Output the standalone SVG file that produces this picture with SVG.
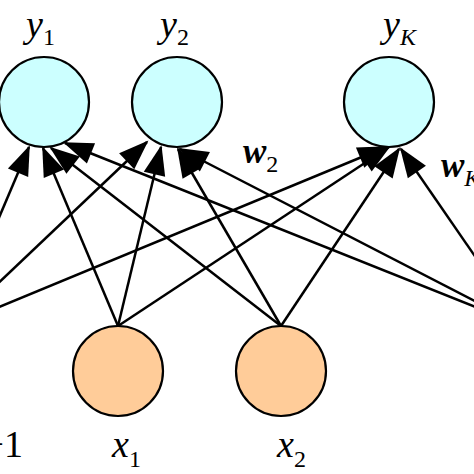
<svg xmlns="http://www.w3.org/2000/svg" width="474" height="474" viewBox="0 0 474 474">
<style>
.out{fill:#ccffff;stroke:#000;stroke-width:2.2}
.inp{fill:#ffcc99;stroke:#000;stroke-width:2.2}
.c{stroke:#000;stroke-width:2.5;fill:none;marker-end:url(#ah)}
.t{font-family:"Liberation Serif","Times New Roman",serif;font-style:italic;font-size:38px;fill:#000}
.w{font-family:"Liberation Serif","Times New Roman",serif;font-style:italic;font-weight:bold;font-size:35px;fill:#000}
.s{font-family:"Liberation Serif","Times New Roman",serif;font-style:normal;font-weight:normal;font-size:24px}
.si{font-family:"Liberation Serif","Times New Roman",serif;font-style:italic;font-weight:normal;font-size:24px}
</style>
<defs>
<marker id="ah" markerUnits="userSpaceOnUse" markerWidth="30" markerHeight="22" refX="28" refY="11" orient="auto" overflow="visible">
<path d="M0,0 L30,11 L0,22 Z" fill="#000"/>
</marker>
</defs>
<rect width="474" height="474" fill="#fff"/>
<g id="connectors">
<line class="c" x1="-47" y1="326" x2="29" y2="147"/>
<line class="c" x1="118" y1="326" x2="43" y2="148"/>
<line class="c" x1="281" y1="326" x2="51" y2="148"/>
<line class="c" x1="523" y1="326" x2="65" y2="143"/>
<line class="c" x1="-47" y1="326" x2="147" y2="142"/>
<line class="c" x1="118" y1="326" x2="161" y2="147"/>
<line class="c" x1="281" y1="326" x2="178" y2="149"/>
<line class="c" x1="523" y1="326" x2="180" y2="149"/>
<line class="c" x1="-47" y1="326" x2="386" y2="147"/>
<line class="c" x1="118" y1="326" x2="389" y2="147"/>
<line class="c" x1="281" y1="326" x2="399" y2="149"/>
<line class="c" x1="523" y1="326" x2="401" y2="149"/>
</g>
<g id="y1"><circle class="out" cx="44" cy="102" r="45"/><text class="t" x="26" y="37">y<tspan class="s" dy="8">1</tspan></text></g>
<g id="y2"><circle class="out" cx="177" cy="102" r="45"/><text class="t" x="160" y="37">y<tspan class="s" dy="8">2</tspan></text></g>
<g id="yK"><circle class="out" cx="389" cy="102" r="45"/><text class="t" x="383" y="37">y<tspan class="si" dy="8">K</tspan></text></g>
<g id="x1"><circle class="inp" cx="118" cy="371" r="45"/><text class="t" x="112" y="457">x<tspan class="s" dy="10">1</tspan></text></g>
<g id="x2"><circle class="inp" cx="281" cy="371" r="45"/><text class="t" x="277" y="457">x<tspan class="s" dy="10">2</tspan></text></g>
<g id="bias"><text class="t" x="23" y="457" text-anchor="end" style="font-style:normal">−1</text></g>
<g id="w2"><text class="w" x="243" y="163">w<tspan class="s" dy="9">2</tspan></text></g>
<g id="wK"><text class="w" x="441" y="177">w<tspan class="si" dy="9">K</tspan></text></g>
</svg>
